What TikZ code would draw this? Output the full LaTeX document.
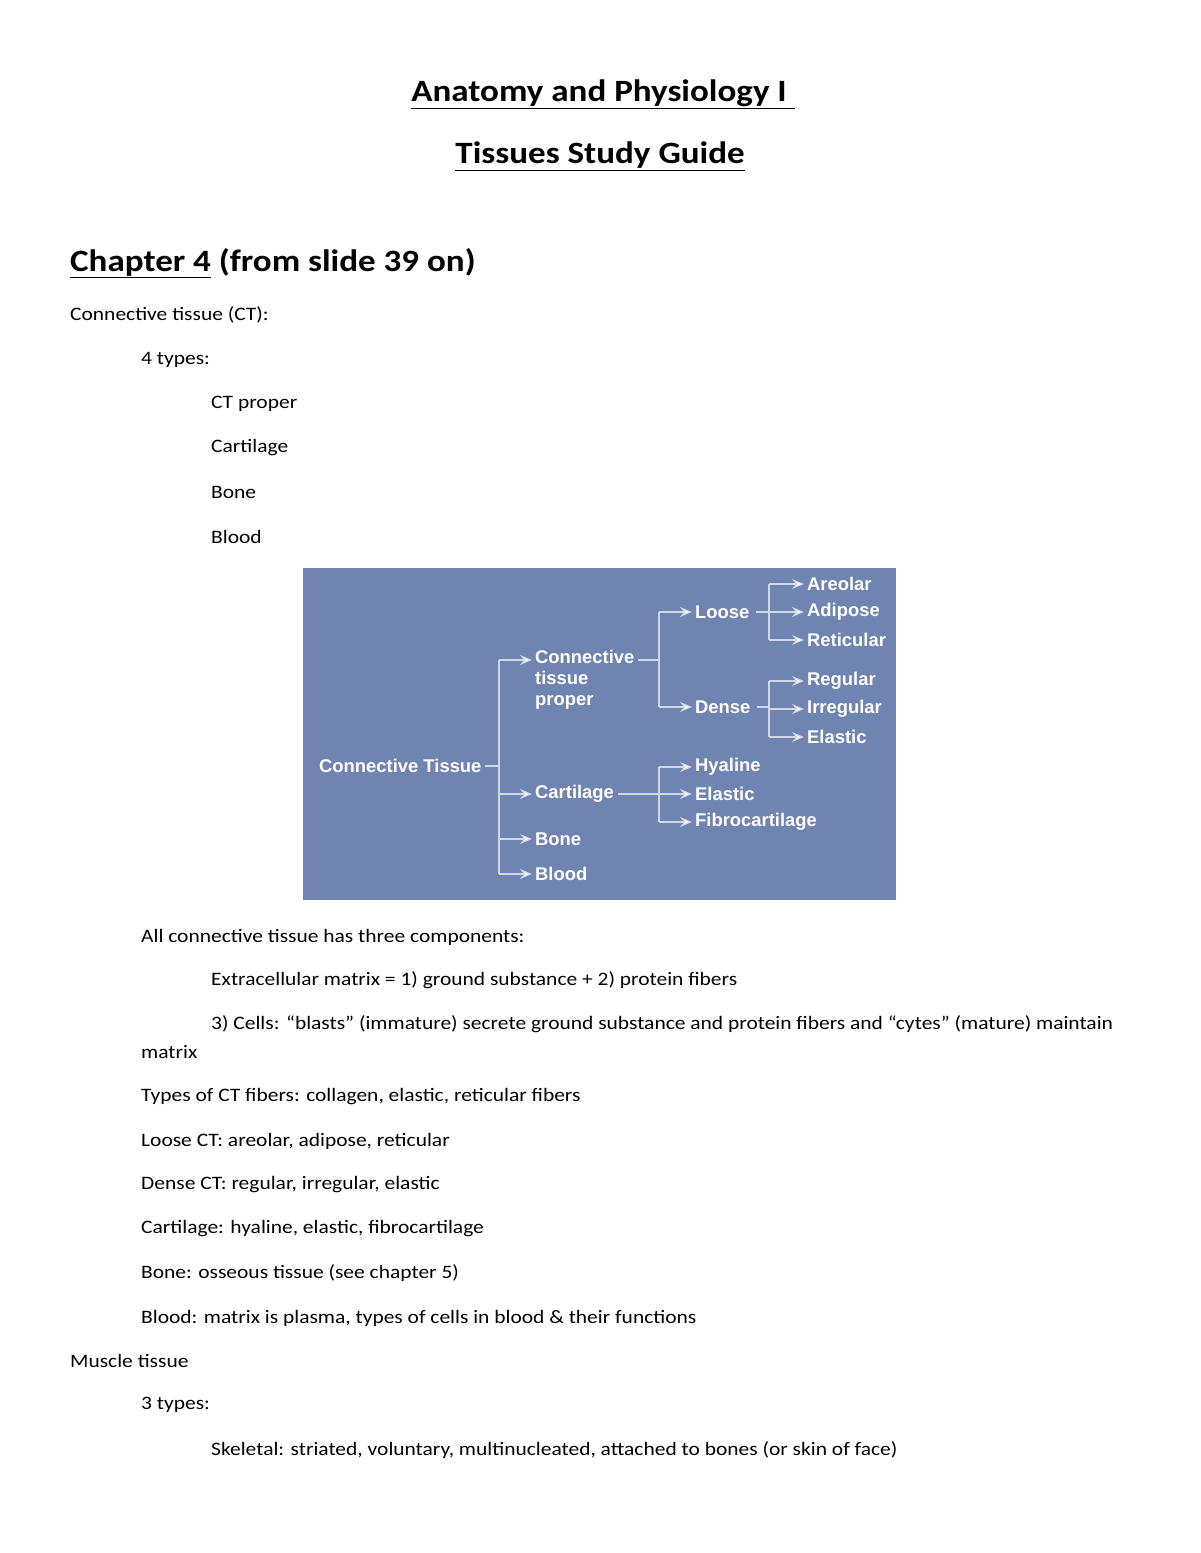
\documentclass[tikz,border=0pt]{standalone}
\usepackage{fontspec}
\setmainfont{Carlito}[FakeStretch=1.13]
\newfontfamily\dfont{Liberation Sans}
\usetikzlibrary{arrows.meta}
\definecolor{panel}{HTML}{6F84B0}
\definecolor{lnc}{HTML}{D0D7E6}
\tikzset{
 body/.style={anchor=west,inner sep=0pt,font=\fontsize{19}{23}\selectfont},
 dtext/.style={anchor=west,inner sep=0pt,text=white,font=\dfont\bfseries\fontsize{18.4}{21}\selectfont},
 ln/.style={draw=lnc,line width=1.1pt},
 arr/.style={ln,-{Stealth[length=12pt,width=10pt,inset=4pt,fill=white]}}
}
\begin{document}
\begin{tikzpicture}[x=1pt,y=-1pt]
\useasboundingbox (0,0) rectangle (1200,1553);
\fill[white] (0,0) rectangle (1200,1553);
\node[inner sep=0pt,font=\bfseries\fontsize{31}{36}\selectfont] (t1) at (603,94) {\underline{Anatomy and Physiology I\ }};
\node[inner sep=0pt,font=\bfseries\fontsize{31}{36}\selectfont] (t2) at (600,156) {\underline{Tissues Study Guide}};
\node[anchor=west,inner sep=0pt,font=\bfseries\fontsize{31}{36}\selectfont] (ch) at (70,263) {\underline{Chapter 4} (from slide 39 on)};
\node[body] (b1) at (70,315) {Connective tissue (CT):};
\node[body] (b2) at (141,360) {4 types:};
\node[body] (b3) at (211,404) {CT proper};
\node[body] (b4) at (211,448) {Cartilage};
\node[body] (b5) at (211,492) {Bone};
\node[body] (b6) at (211,537) {Blood};
% panel
\fill[panel] (303,568) rectangle (896,900);
\node[dtext] (ct) at (319,766) {Connective Tissue};
\node[dtext,align=left,anchor=north west] (ctp) at (535,650) {Connective\\tissue\\proper};
\node[dtext] (cart) at (535,794) {Cartilage};
\node[dtext] (bone) at (535,839) {Bone};
\node[dtext] (blood) at (535,874) {Blood};
\node[dtext] (loose) at (695,612) {Loose};
\node[dtext] (dense) at (695,707) {Dense};
\node[dtext] (are) at (807,584) {Areolar};
\node[dtext] (adi) at (807,612) {Adipose};
\node[dtext] (ret) at (807,640) {Reticular};
\node[dtext] (reg) at (807,681) {Regular};
\node[dtext] (irr) at (807,709) {Irregular};
\node[dtext] (ela) at (807,737) {Elastic};
\node[dtext] (hya) at (695,767) {Hyaline};
\node[dtext] (ela2) at (695,794) {Elastic};
\node[dtext] (fib) at (695,822) {Fibrocartilage};
\coordinate (j1) at (499,766);
\coordinate (j2) at (659,660);
\coordinate (j3) at (769,612);
\coordinate (j4) at (769,707);
\coordinate (j5) at (659,794);
\draw[ln] (ct.east) ++(3,0) -- (j1);
\draw[ln] (499,660) -- (499,874);
\draw[arr] (499,660) -- ([xshift=-3pt]ctp.north west |- 0,660);
\foreach \n in {cart,bone,blood}{\draw[arr] (499,0 |- \n.west) -- ([xshift=-3pt]\n.west);}
\draw[ln] (638,660) -- (j2);
\draw[ln] (659,612) -- (659,707);
\foreach \n in {loose,dense}{\draw[arr] (659,0 |- \n.west) -- ([xshift=-3pt]\n.west);}
\draw[ln] ([xshift=6pt]loose.east) -- (j3);
\draw[ln] (769,584) -- (769,640);
\draw[ln] ([xshift=6pt]dense.east) -- (j4);
\draw[ln] (769,681) -- (769,737);
\foreach \n in {are,adi,ret,reg,irr,ela}{\draw[arr] (769,0 |- \n.west) -- ([xshift=-3pt]\n.west);}
\draw[ln] ([xshift=4pt]cart.east) -- (j5);
\draw[ln] (659,767) -- (659,822);
\foreach \n in {hya,ela2,fib}{\draw[arr] (659,0 |- \n.west) -- ([xshift=-3pt]\n.west);}
% body after
\node[body] (c1) at (141,937) {All connective tissue has three components:};
\node[body] (c2) at (211,980) {Extracellular matrix = 1) ground substance + 2) protein fibers};
\node[body] (c3) at (211,1024) {3) Cells: “blasts” (immature) secrete ground substance and protein fibers and “cytes” (mature) maintain};
\node[body] (c3b) at (141,1052) {matrix};
\node[body] (c4) at (141,1097) {Types of CT fibers: collagen, elastic, reticular fibers};
\node[body] (c5) at (141,1141) {Loose CT: areolar, adipose, reticular};
\node[body] (c6) at (141,1185) {Dense CT: regular, irregular, elastic};
\node[body] (c7) at (141,1229) {Cartilage: hyaline, elastic, fibrocartilage};
\node[body] (c8) at (141,1273) {Bone: osseous tissue (see chapter 5)};
\node[body] (c9) at (141,1318) {Blood: matrix is plasma, types of cells in blood \& their functions};
\node[body] (m1) at (70,1361) {Muscle tissue};
\node[body] (m2) at (141,1405) {3 types:};
\node[body] (m3) at (211,1450) {Skeletal: striated, voluntary, multinucleated, attached to bones (or skin of face)};
\end{tikzpicture}
\end{document}
